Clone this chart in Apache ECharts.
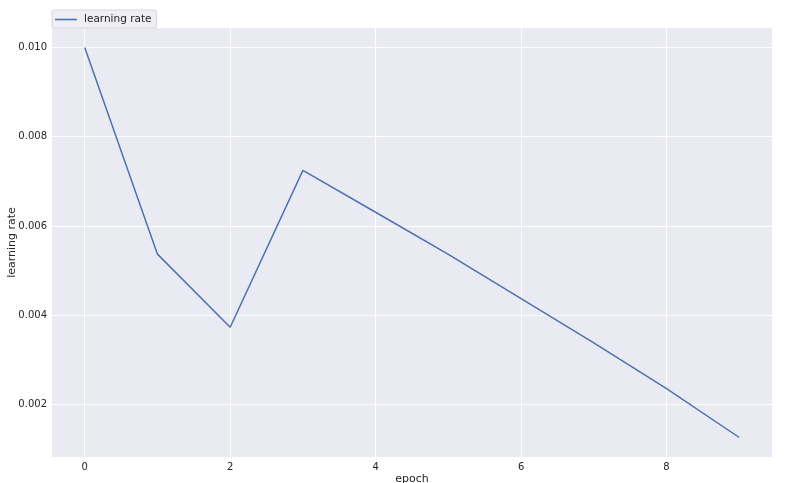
<!DOCTYPE html>
<html>
<head>
<meta charset="utf-8">
<script src="https://cdn.jsdelivr.net/npm/echarts@6/dist/echarts.min.js"></script>
<style>
html,body{margin:0;padding:0;background:#fff;}
#c{width:794px;height:483px;}
</style>
</head>
<body>
<div id="c"></div>
<script>
const epochs = [0, 1, 2, 3, 4, 5, 6, 7, 8, 9];
const learningRate = [0.01, 0.005367, 0.003728, 0.007245, 0.006306, 0.005361, 0.004372, 0.003379, 0.00235, 0.001256];
const xTicks = [0, 2, 4, 6, 8];
const yTicks = [0.002, 0.004, 0.006, 0.008, 0.010];
const seriesName = 'learning rate';

function pad(lo, hi) { const m = (hi - lo) * 0.05; return [lo - m, hi + m]; }
const xr = pad(Math.min(...epochs), Math.max(...epochs));
const yr = pad(Math.min(...learningRate), Math.max(...learningRate));

const font = 'DejaVu Sans';
const txt = '#262626';
const chart = echarts.init(document.getElementById('c'), null, {renderer: 'canvas'});
chart.setOption({
  animation: false,
  backgroundColor: '#ffffff',
  textStyle: {fontFamily: font},
  legend: {
    left: 52, top: 10,
    padding: [4, 5, 3, 3],
    icon: 'rect',
    itemWidth: 22, itemHeight: 1.6,
    backgroundColor: '#EEEEF4',
    borderColor: '#D8D8DF', borderWidth: 1, borderRadius: 2,
    textStyle: {fontFamily: font, fontSize: 10.5, color: txt, padding: [0, 0, 0, 2]},
    data: [seriesName]
  },
  grid: {left: 52, right: 22, top: 28, bottom: 26, show: true, backgroundColor: '#EAEAF2', borderWidth: 0,
    containLabel: false, outerBoundsMode: 'none'},
  xAxis: {
    type: 'value', min: xr[0], max: xr[1],
    name: 'epoch', nameLocation: 'middle', nameGap: 16.5, nameMoveOverlap: false,
    nameTextStyle: {fontFamily: font, fontSize: 11, color: txt},
    axisLine: {show: false},
    axisTick: {show: false, customValues: xTicks},
    axisLabel: {customValues: xTicks, fontFamily: font, fontSize: 10, color: txt, margin: 5},
    splitLine: {show: true, lineStyle: {color: '#ffffff', width: 1}}
  },
  yAxis: {
    type: 'value', min: yr[0], max: yr[1],
    name: 'learning rate', nameLocation: 'middle', nameGap: 34, nameMoveOverlap: false,
    nameTextStyle: {fontFamily: font, fontSize: 11, color: txt},
    axisLine: {show: false},
    axisTick: {show: false, customValues: yTicks},
    axisLabel: {customValues: yTicks, fontFamily: font, fontSize: 10, color: txt, margin: 5,
      formatter: v => v.toFixed(3)},
    splitLine: {show: true, lineStyle: {color: '#ffffff', width: 1}}
  },
  series: [{
    name: seriesName, type: 'line',
    data: epochs.map((e, i) => [e, learningRate[i]]),
    symbol: 'none', showSymbol: false,
    lineStyle: {color: '#4C72B0', width: 1.5},
    itemStyle: {color: '#4C72B0'}
  }]
});
</script>
</body>
</html>
